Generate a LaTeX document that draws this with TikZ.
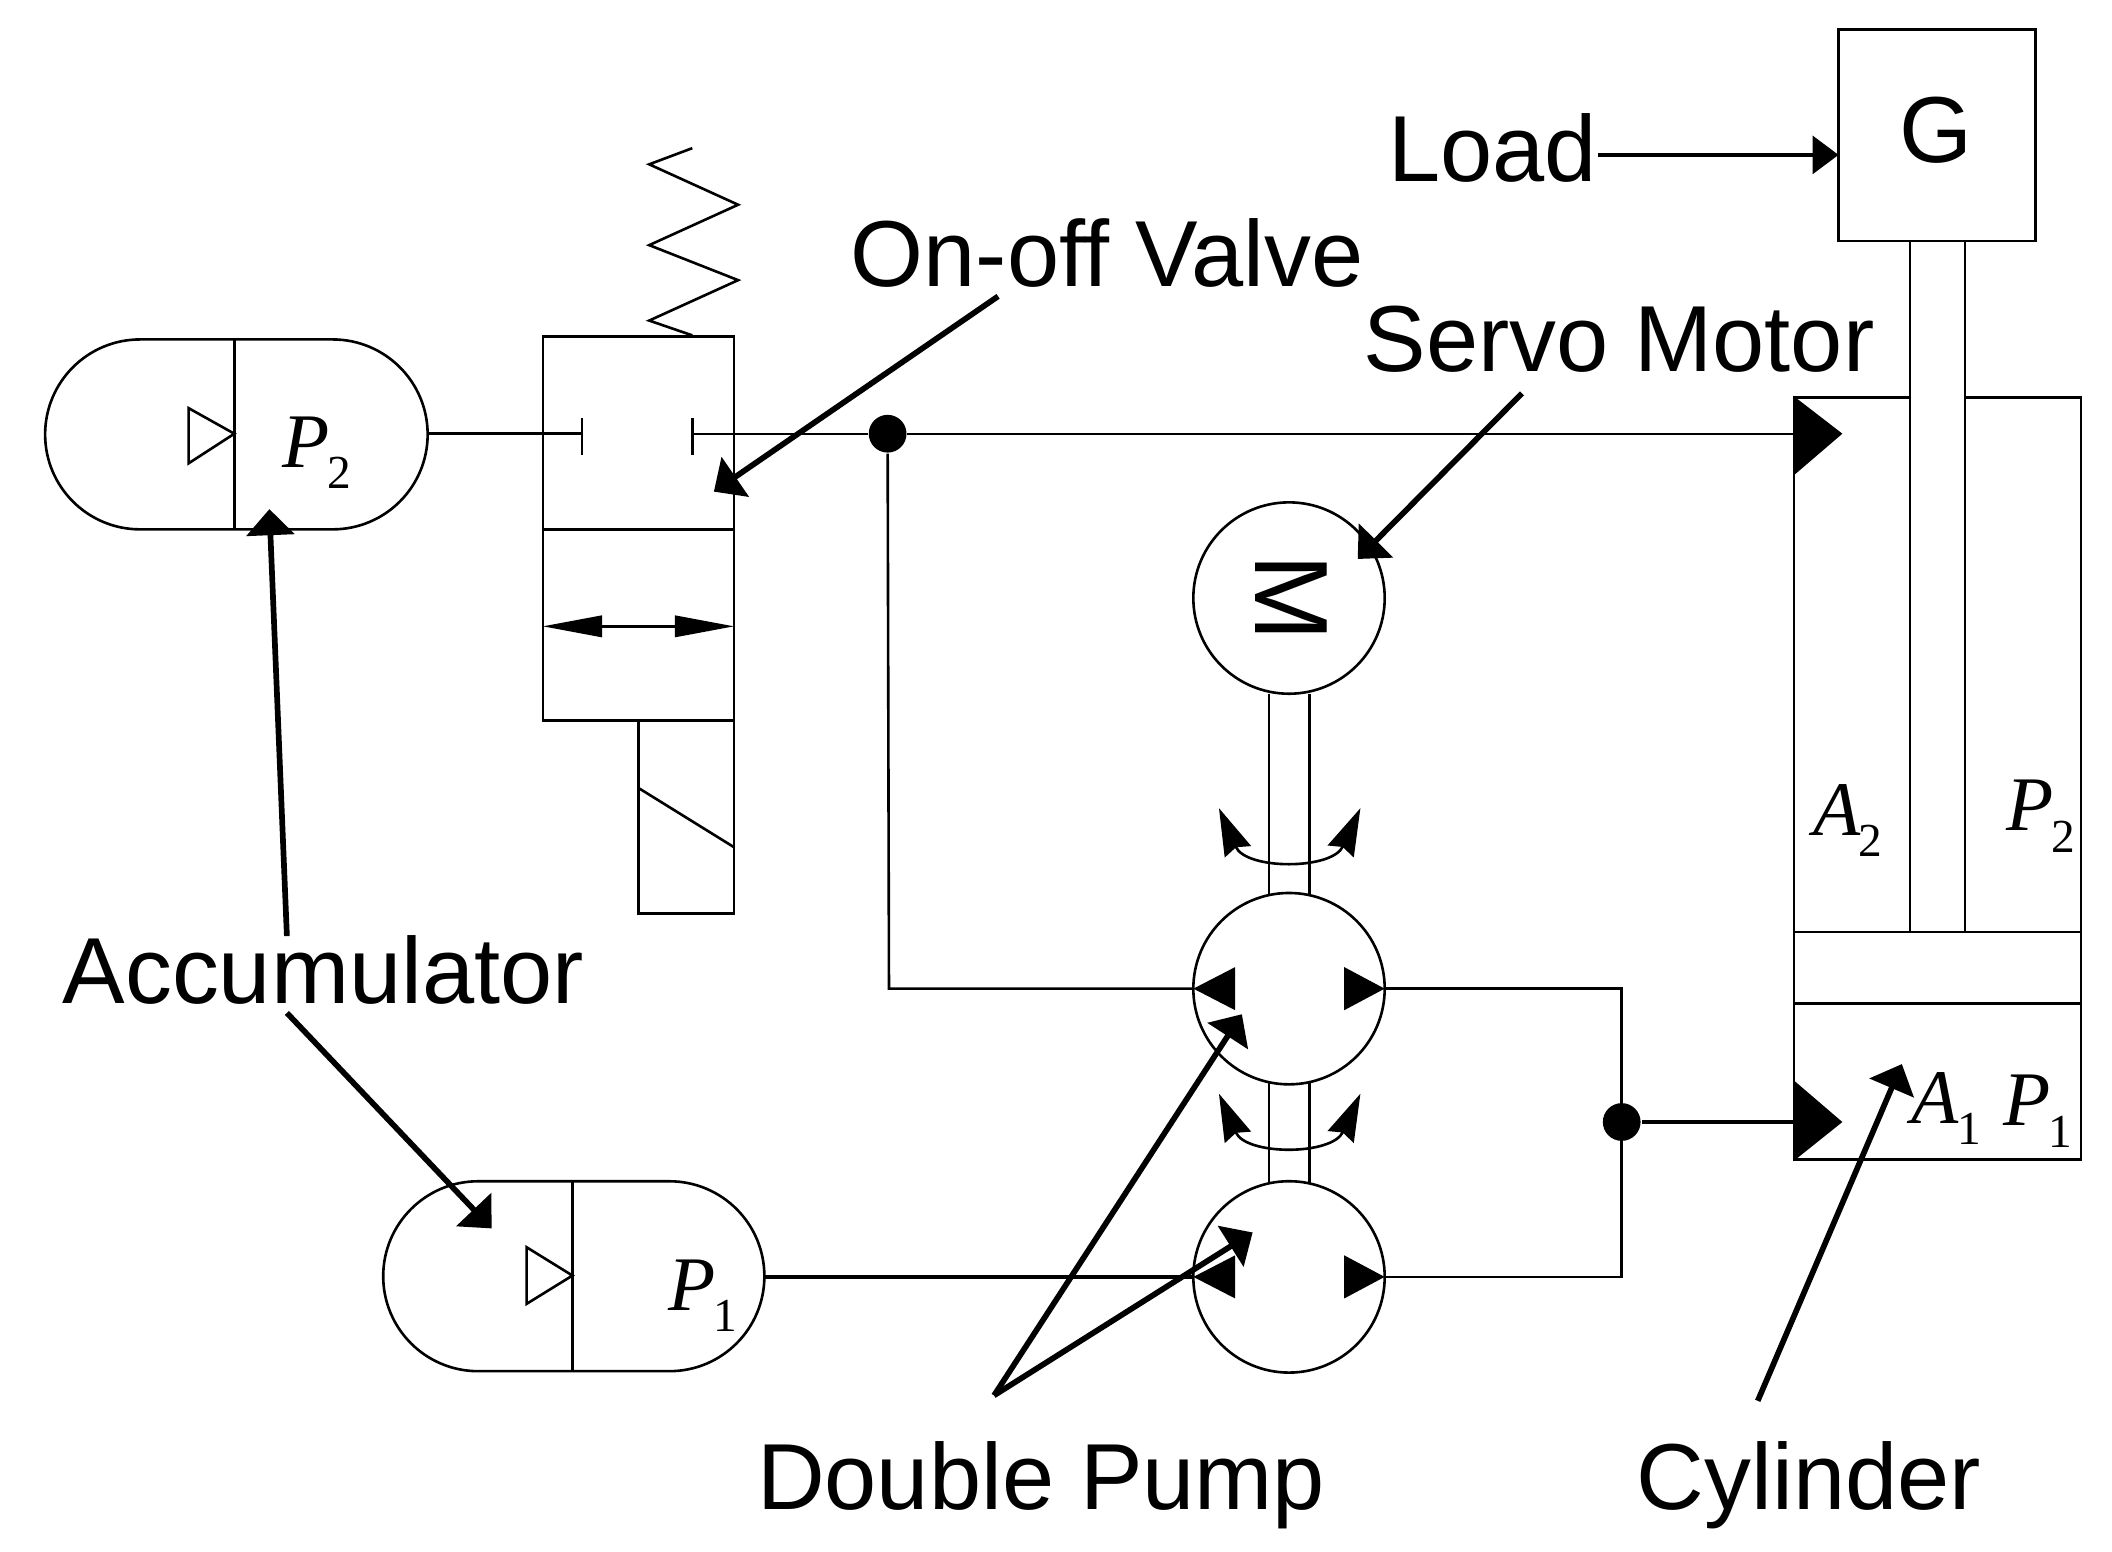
\documentclass[tikz,border=0pt]{standalone}
\usepackage{fontspec}
\setmainfont{Liberation Sans}
\newfontfamily\symfont{Liberation Serif}
\usetikzlibrary{arrows.meta}

\newcommand{\bigtext}{\fontsize{19.8}{22}\selectfont}
\newcommand{\sym}[2]{{\symfont\fontsize{16.3}{18}\selectfont\textit{#1}\kern-0.4pt\raisebox{-4.5pt}{\fontsize{10}{12}\selectfont #2}}}

\tikzset{
  thin line/.style={line width=0.55pt, black},
  fine line/.style={line width=0.45pt, black},
  pipe line/.style={line width=0.7pt, black},
  pointer/.style={line width=1.2pt, black, -{Triangle[length=5.5pt,width=10pt]}},
  label/.style={inner sep=0pt, font=\bigtext},
  symbol/.style={inner sep=0pt},
  round unit/.style={circle, draw, line width=0.55pt, minimum size=1.42cm, inner sep=0pt},
  dot/.style={circle, fill=black, minimum size=0.28cm, inner sep=0pt},
  wedge/.style={fill=black, draw=black, line width=0.3pt},
  spin/.style={line width=0.55pt, black, {Stealth[length=10pt,width=6pt,inset=1pt]}-{Stealth[length=10pt,width=6pt,inset=1pt]}}
}

\begin{document}
\begin{tikzpicture}[x=0.01cm, y=-0.01cm]
\useasboundingbox (0,0) rectangle (1568,1152.2);

% upper accumulator
\draw[thin line] (104,252) -- (247,252) arc(-90:90:70.5) -- (104,393) arc(90:270:70.5);
\draw[thin line] (174,252) -- (174,393);
\draw[thin line] (140,303) -- (174,322) -- (140,344) -- cycle;
\node[symbol] (p2a) at (235,336) {\sym{P}{2}};

% lower accumulator
\draw[thin line] (355,877) -- (497,877) arc(-90:90:70.5) -- (355,1018) arc(90:270:70.5);
\draw[thin line] (425,877) -- (425,1018);
\draw[thin line] (391,926) -- (425,947) -- (391,968) -- cycle;
\node[symbol] (p1a) at (522,962) {\sym{P}{1}};

% valve
\draw[thin line] (403,250) rectangle (545,535);
\draw[thin line] (403,393) -- (545,393);
\draw[thin line] (514,110) -- (482,122) -- (548,152) -- (482,182) -- (548,208) -- (482,238) -- (514,249);
\draw[thin line] (474,535) -- (474,678) -- (545,678) -- (545,535);
\draw[thin line] (474,585) -- (545,629);
\draw[thin line, {Triangle[length=12.5pt,width=4.5pt]}-{Triangle[length=12.5pt,width=4.5pt]}] (403,465) -- (545,465);
\draw[thin line] (432,310) -- (432,338);
\draw[thin line] (514,310) -- (514,338);

% motor and pumps
\node[round unit] (motor) at (957,444) {};
\node[rotate=-90, label, font=\fontsize{22}{22}\selectfont] (mlabel) at (959,444) {M};
\node[round unit] (pumpa) at (957,734) {};
\node[round unit] (pumpb) at (957,948) {};
\draw[thin line] (942,515) -- (942,665);
\draw[thin line] (972,515) -- (972,665);
\draw[thin line] (942,804) -- (942,878);
\draw[thin line] (972,804) -- (972,878);
\draw[spin] (905,600) .. controls (925,646) and (989,646) .. (1010,600);
\draw[spin] (905,812) .. controls (925,858) and (989,858) .. (1010,812);
\fill (886,734) -- (917,718) -- (917,750) -- cycle;
\fill (1028,734) -- (998,718) -- (998,750) -- cycle;
\fill (886,948) -- (917,932) -- (917,964) -- cycle;
\fill (1028,948) -- (998,932) -- (998,964) -- cycle;

% cylinder
\draw[thin line] (1418,295) -- (1332,295) -- (1332,861) -- (1545,861) -- (1545,295) -- (1459,295);
\draw[thin line] (1332,692) -- (1545,692);
\draw[thin line] (1332,745) -- (1545,745);
\draw[thin line] (1418,179) -- (1418,692);
\draw[thin line] (1459,179) -- (1459,692);
\node[draw, line width=0.55pt, minimum width=1.46cm, minimum height=1.57cm, inner sep=0pt] (gbox) at (1438,100.5) {};
\node[label] (gtext) at (1437,97) {G};
\coordinate (porta) at (1332,322);
\coordinate (portb) at (1332,833);
\draw[wedge] (1332,295) -- (1367,322) -- (1332,352) -- cycle;
\draw[wedge] (1332,803) -- (1367,833) -- (1332,861) -- cycle;
\node[symbol] (a2) at (1372,609) {\sym{A}{2}};
\node[symbol] (p2b) at (1515,606) {\sym{P}{2}};
\node[symbol] (a1) at (1445,823) {\sym{A}{1}};
\node[symbol] (p1b) at (1513,825) {\sym{P}{1}};

% lines
\node[dot] (joina) at (659,322) {};
\node[dot] (joinb) at (1204,833) {};
\draw[thin line] (317,322) -- (432,322);
\draw[fine line] (514,322) -- (joina) -- (porta);
\draw[thin line] (joina) -- (660,734) -- (pumpa.west);
\draw[thin line] (pumpa.east) -- (1204,734) -- (1204,948) -- (pumpb.east);
\draw[pipe line] (567,948) -- (pumpb.west);
\draw[pipe line] (joinb) -- (portb);

% labels
\node[label] (load) at (1108,110) {Load};
\node[label] (onoff) at (822,188) {On-off Valve};
\node[label] (servo) at (1202,252) {Servo Motor};
\node[label] (accu) at (240,720) {Accumulator};
\node[label] (pump) at (773,1103) {Double Pump};
\node[label] (cyl) at (1343,1103) {Cylinder};

\coordinate (fork) at (738,1036);
\draw[line width=0.8pt, -{Triangle[length=5.5pt,width=8pt]}] (load.east |- 0,115) -- (1365,115);
\draw[pointer] (741,220) -- (530,365);
\draw[pointer] (1130,292) -- (1008,415);
\draw[pointer] (213,695) -- (200,378);
\draw[pointer] (213,752) -- (365,912);
\draw[pointer] (fork) -- (922,753);
\draw[pointer] (fork) -- (930,915);
\draw[pointer] (1305,1040) -- (1412,790);

\end{tikzpicture}
\end{document}
